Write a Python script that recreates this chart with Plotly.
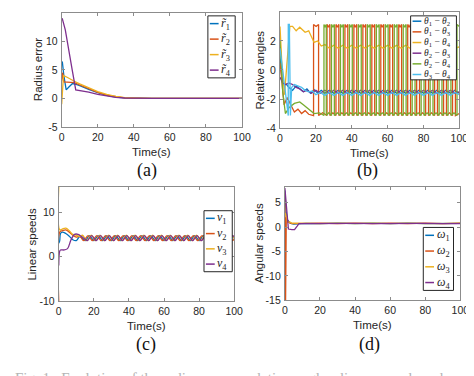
import plotly.graph_objects as go

W, H = 474, 376
def px(x): return x / W
def py(y): return 1 - y / H

BLUE, ORANGE, YELLOW, PURPLE, GREEN, CYAN = "#0072BD", "#D95319", "#EDB120", "#7E2F8E", "#77AC30", "#4DBEEE"

# ---------------- (a) Radius error ----------------
t_r1 = [0, 0.4, 1.2, 2.5, 4, 6, 8, 10, 15, 20, 25, 30, 35, 40, 50, 60, 80, 100]
r1 = [6.5, 6.3, 4.0, 1.5, 2.0, 2.6, 2.45, 2.25, 1.6, 1.0, 0.55, 0.25, 0.1, 0.04, 0.01, 0, 0, 0]
t_r2 = [0, 0.5, 1.2, 3, 5, 7, 10, 15, 20, 25, 30, 35, 40, 50, 60, 80, 100]
r2 = [3.0, 4.5, 2.9, 2.85, 2.8, 2.75, 2.35, 1.65, 1.05, 0.6, 0.3, 0.12, 0.05, 0.01, 0, 0, 0]
t_r3 = [0, 0.3, 1, 3, 5, 7, 10, 15, 20, 25, 30, 35, 40, 50, 60, 80, 100]
r3 = [-1.0, 0.5, 4.0, 3.7, 3.3, 3.0, 2.55, 1.85, 1.2, 0.7, 0.35, 0.15, 0.06, 0.01, 0, 0, 0]
t_r4 = [0, 0.3, 2, 4, 6, 7.8, 10, 15, 20, 25, 30, 35, 40, 50, 60, 80, 100]
r4 = [13.8, 14.0, 12.0, 8.7, 4.7, 1.5, 1.4, 1.1, 0.7, 0.4, 0.2, 0.08, 0.03, 0.01, 0, 0, 0]

# ---------------- (b) Relative angles ----------------
t_12 = [0, 1, 2, 3, 5, 7, 9, 11, 13, 15, 17, 19, 21, 23, 25, 27.5, 30, 32.5, 35, 37.5, 40, 42.5, 45, 47.5, 50,
        52.5, 55, 57.5, 60, 62.5, 65, 67.5, 70, 72.5, 75, 77.5, 80, 82.5, 85, 87.5, 90, 92.5, 95, 97.5, 100]
a12 = [1.0, -0.5, -1.0, -0.9, -1.2, -1.4, -1.1, -1.3, -1.5, -1.3, -1.6, -1.35, -1.6, -1.4, -1.6, -1.4, -1.6, -1.4,
       -1.6, -1.4, -1.6, -1.4, -1.6, -1.4, -1.6, -1.4, -1.6, -1.4, -1.6, -1.4, -1.6, -1.4, -1.6, -1.4, -1.6, -1.4,
       -1.6, -1.4, -1.6, -1.4, -1.6, -1.4, -1.6, -1.4, -1.6]
t_13 = [0, 1, 2.3, 4, 6, 8, 10, 12, 14, 16, 18.7, 18.7, 20.1, 21.5, 21.5, 23.8, 26.2, 26.2, 27.0, 27.8, 27.8,
        29.5, 31.2, 31.2, 32.0, 32.8, 32.8, 34.5, 36.2, 36.2, 37.0, 37.8, 37.8, 39.5, 41.2, 41.2, 42.0, 42.8, 42.8,
        44.5, 46.2, 46.2, 47.0, 47.8, 47.8, 49.5, 51.2, 51.2, 52.0, 52.8, 52.8, 54.5, 56.2, 56.2, 57.0, 57.8, 57.8,
        59.5, 61.2, 61.2, 62.0, 62.8, 62.8, 64.5, 66.2, 66.2, 67.0, 67.8, 67.8, 69.5, 71.2, 71.2, 72.0, 72.8, 72.8,
        74.5, 76.2, 76.2, 77.0, 77.8, 77.8, 79.5, 81.2, 81.2, 82.0, 82.8, 82.8, 84.5, 86.2, 86.2, 87.0, 87.8, 87.8,
        89.5, 91.2, 91.2, 92.0, 92.8, 92.8, 94.5, 96.2, 96.2, 97.0, 97.8, 97.8, 100]
a13 = [0.5, -1.0, -2.4, -1.9, -2.4, -2.9, -2.7, -3.0, -2.8, -3.05, -3.14, 3.14, 3.0, 3.14, -3.14, -2.95, -3.14,
       3.14, 2.95, 3.14, -3.14, -2.95, -3.14, 3.14, 2.95, 3.14, -3.14, -2.95, -3.14, 3.14, 2.95, 3.14, -3.14, -2.95,
       -3.14, 3.14, 2.95, 3.14, -3.14, -2.95, -3.14, 3.14, 2.95, 3.14, -3.14, -2.95, -3.14, 3.14, 2.95, 3.14, -3.14,
       -2.95, -3.14, 3.14, 2.95, 3.14, -3.14, -2.95, -3.14, 3.14, 2.95, 3.14, -3.14, -2.95, -3.14, 3.14, 2.95, 3.14,
       -3.14, -2.95, -3.14, 3.14, 2.95, 3.14, -3.14, -2.95, -3.14, 3.14, 2.95, 3.14, -3.14, -2.95, -3.14, 3.14, 2.95,
       3.14, -3.14, -2.95, -3.14, 3.14, 2.95, 3.14, -3.14, -2.95, -3.14, 3.14, 2.95, 3.14, -3.14, -2.95, -3.14, 3.14,
       2.95, 3.14, -3.14, -3.0]
t_14 = [0, 1, 2.5, 4, 5.5, 7, 9, 11, 14, 16, 19, 21, 23, 25, 27.5, 30, 32.5, 35, 37.5, 40, 42.5, 45, 47.5, 50,
        52.5, 55, 57.5, 60, 62.5, 65, 67.5, 70, 72.5, 75, 77.5, 80, 82.5, 85, 87.5, 90, 92.5, 95, 97.5, 100]
a14 = [3.0, 0.5, -1.7, 0.5, 3.0, 3.0, 2.7, 2.95, 2.6, 2.7, 1.9, 2.0, 1.65, 1.75, 1.5, 1.7, 1.5, 1.7, 1.5, 1.7, 1.5,
       1.7, 1.5, 1.7, 1.5, 1.7, 1.5, 1.7, 1.5, 1.7, 1.5, 1.7, 1.5, 1.7, 1.5, 1.7, 1.5, 1.7, 1.5, 1.7, 1.5, 1.7, 1.5, 1.6]
t_23 = [0, 1.5, 3, 5, 7, 9, 11, 13, 15, 17.5, 20, 22.5, 25, 27.5, 30, 32.5, 35, 37.5, 40, 42.5, 45, 47.5, 50,
        52.5, 55, 57.5, 60, 62.5, 65, 67.5, 70, 72.5, 75, 77.5, 80, 82.5, 85, 87.5, 90, 92.5, 95, 97.5, 100]
a23 = [-0.5, -0.9, -1.0, -0.9, -1.0, -1.2, -1.3, -1.5, -1.4, -1.6, -1.4, -1.6, -1.4, -1.6, -1.4, -1.6, -1.4, -1.6,
       -1.4, -1.6, -1.4, -1.6, -1.4, -1.6, -1.4, -1.6, -1.4, -1.6, -1.4, -1.6, -1.4, -1.6, -1.4, -1.6, -1.4, -1.6,
       -1.4, -1.6, -1.4, -1.6, -1.4, -1.6, -1.5]
t_24 = [0, 1.5, 3, 5, 8, 11, 13, 15, 17, 19, 22, 24.5, 24.5, 25.2, 25.8, 25.8, 27.2, 28.7, 28.7, 29.5, 30.3, 30.3,
        32.0, 33.7, 33.7, 34.5, 35.3, 35.3, 37.0, 38.7, 38.7, 39.5, 40.3, 40.3, 42.0, 43.7, 43.7, 44.5, 45.3, 45.3,
        47.0, 48.7, 48.7, 49.5, 50.3, 50.3, 52.0, 53.7, 53.7, 54.5, 55.3, 55.3, 57.0, 58.7, 58.7, 59.5, 60.3, 60.3,
        62.0, 63.7, 63.7, 64.5, 65.3, 65.3, 67.0, 68.7, 68.7, 69.5, 70.3, 70.3, 72.0, 73.7, 73.7, 74.5, 75.3, 75.3,
        77.0, 78.7, 78.7, 79.5, 80.3, 80.3, 82.0, 83.7, 83.7, 84.5, 85.3, 85.3, 87.0, 88.7, 88.7, 89.5, 90.3, 90.3,
        92.0, 93.7, 93.7, 94.5, 95.3, 95.3, 97.0, 98.7, 98.7, 100]
a24 = [2.0, -1.5, -3.0, -2.6, -2.3, -2.2, -2.4, -2.6, -2.8, -3.0, -2.95, -3.14, 3.14, 2.95, 3.14, -3.14, -2.95, -3.14,
       3.14, 2.95, 3.14, -3.14, -2.95, -3.14, 3.14, 2.95, 3.14, -3.14, -2.95, -3.14, 3.14, 2.95, 3.14, -3.14, -2.95,
       -3.14, 3.14, 2.95, 3.14, -3.14, -2.95, -3.14, 3.14, 2.95, 3.14, -3.14, -2.95, -3.14, 3.14, 2.95, 3.14, -3.14,
       -2.95, -3.14, 3.14, 2.95, 3.14, -3.14, -2.95, -3.14, 3.14, 2.95, 3.14, -3.14, -2.95, -3.14, 3.14, 2.95, 3.14,
       -3.14, -2.95, -3.14, 3.14, 2.95, 3.14, -3.14, -2.95, -3.14, 3.14, 2.95, 3.14, -3.14, -2.95, -3.14, 3.14, 2.95,
       3.14, -3.14, -2.95, -3.14, 3.14, 2.95, 3.14, -3.14, -2.95, -3.14, 3.14, 2.95, 3.14, -3.14, -2.95, -3.14, 3.14, 3.0]
t_34 = [0, 1.5, 3, 4.6, 4.6, 5.2, 5.8, 6.5, 8, 10, 12, 14, 16, 18, 20, 22.5, 25, 27.5, 30, 32.5, 35, 37.5, 40, 42.5,
        45, 47.5, 50, 52.5, 55, 57.5, 60, 62.5, 65, 67.5, 70, 72.5, 75, 77.5, 80, 82.5, 85, 87.5, 90, 92.5, 95, 97.5, 100]
a34 = [1.5, 0.0, -1.6, -3.14, 3.14, 3.14, -3.14, -1.2, -1.0, -1.1, -1.2, -1.4, -1.5, -1.45, -1.7, -1.55, -1.75,
       -1.55, -1.75, -1.55, -1.75, -1.55, -1.75, -1.55, -1.75, -1.55, -1.75, -1.55, -1.75, -1.55, -1.75, -1.55, -1.75,
       -1.55, -1.75, -1.55, -1.75, -1.55, -1.75, -1.55, -1.75, -1.55, -1.75, -1.55, -1.75, -1.55, -1.7]

# ---------------- (c) Linear speeds ----------------
t_v1 = [0, 0.5, 1, 2, 4, 6, 8, 10, 12, 15, 17.5, 20, 22.5, 25, 27.5, 30, 32.5, 35, 37.5, 40, 42.5, 45, 47.5, 50,
        52.5, 55, 57.5, 60, 62.5, 65, 67.5, 70, 72.5, 75, 77.5, 80, 82.5, 85, 87.5, 90, 92.5, 95, 97.5, 100]
v1 = [3.0, 3.5, 5.2, 5.5, 5.2, 4.6, 3.8, 3.6, 4.5, 3.6, 4.7, 3.6, 4.7, 3.6, 4.7, 3.6, 4.7, 3.6, 4.7, 3.6, 4.7, 3.6,
      4.7, 3.6, 4.7, 3.6, 4.7, 3.6, 4.7, 3.6, 4.7, 3.6, 4.7, 3.6, 4.7, 3.6, 4.7, 3.6, 4.7, 3.6, 4.7, 3.6, 4.7, 4.2]
t_v2 = [0, 0.7, 2, 4, 6, 8, 10, 12, 14.2, 16.7, 19.2, 21.7, 24.2, 26.7, 29.2, 31.7, 34.2, 36.7, 39.2, 41.7, 44.2,
        46.7, 49.2, 51.7, 54.2, 56.7, 59.2, 61.7, 64.2, 66.7, 69.2, 71.7, 74.2, 76.7, 79.2, 81.7, 84.2, 86.7, 89.2,
        91.7, 94.2, 96.7, 99.2, 100]
v2 = [-10, 5.6, 5.8, 6.0, 5.5, 4.8, 4.4, 4.6, 3.6, 4.7, 3.6, 4.7, 3.6, 4.7, 3.6, 4.7, 3.6, 4.7, 3.6, 4.7, 3.6, 4.7,
      3.6, 4.7, 3.6, 4.7, 3.6, 4.7, 3.6, 4.7, 3.6, 4.7, 3.6, 4.7, 3.6, 4.7, 3.6, 4.7, 3.6, 4.7, 3.6, 4.7, 3.6, 4.0]
t_v3 = [0, 0.6, 2, 4, 6, 8, 10, 12, 13.5, 16, 18.5, 21, 23.5, 26, 28.5, 31, 33.5, 36, 38.5, 41, 43.5, 46, 48.5, 51,
        53.5, 56, 58.5, 61, 63.5, 66, 68.5, 71, 73.5, 76, 78.5, 81, 83.5, 86, 88.5, 91, 93.5, 96, 98.5, 100]
v3 = [15.6, 6.0, 6.2, 6.4, 5.8, 5.0, 4.8, 4.5, 4.8, 3.6, 4.8, 3.6, 4.8, 3.6, 4.8, 3.6, 4.8, 3.6, 4.8, 3.6, 4.8, 3.6,
      4.8, 3.6, 4.8, 3.6, 4.8, 3.6, 4.8, 3.6, 4.8, 3.6, 4.8, 3.6, 4.8, 3.6, 4.8, 3.6, 4.8, 3.6, 4.8, 3.6, 4.8, 4.2]
t_v4 = [0, 0.5, 1, 3, 5, 7, 9, 11, 13, 15, 16.3, 18.8, 21.3, 23.8, 26.3, 28.8, 31.3, 33.8, 36.3, 38.8, 41.3, 43.8,
        46.3, 48.8, 51.3, 53.8, 56.3, 58.8, 61.3, 63.8, 66.3, 68.8, 71.3, 73.8, 76.3, 78.8, 81.3, 83.8, 86.3, 88.8,
        91.3, 93.8, 96.3, 98.8, 100]
v4 = [-2.0, 1.2, 1.5, 1.5, 1.8, 3.8, 5.0, 5.0, 4.5, 3.9, 3.6, 4.7, 3.6, 4.7, 3.6, 4.7, 3.6, 4.7, 3.6, 4.7, 3.6, 4.7,
      3.6, 4.7, 3.6, 4.7, 3.6, 4.7, 3.6, 4.7, 3.6, 4.7, 3.6, 4.7, 3.6, 4.7, 3.6, 4.7, 3.6, 4.7, 3.6, 4.7, 3.6, 4.7, 4.5]

# ---------------- (d) Angular speeds ----------------
t_w1 = [0, 0.7, 1.5, 3, 5, 8, 12, 20, 30, 40, 50, 60, 70, 80, 90, 100]
w1 = [7.5, 3.0, 1.5, 0.8, 0.6, 0.7, 0.75, 0.7, 0.8, 0.7, 0.8, 0.7, 0.8, 0.7, 0.8, 0.75]
t_w2 = [0, 0.4, 0.8, 2, 4, 8, 12, 20, 30, 40, 50, 60, 70, 80, 90, 100]
w2 = [7.0, -15, 2.0, 1.0, 0.7, 0.75, 0.7, 0.8, 0.7, 0.8, 0.7, 0.8, 0.7, 0.8, 0.7, 0.8]
t_w3 = [0, 0.5, 1.5, 3, 4, 8, 12, 20, 30, 40, 50, 60, 70, 80, 90, 100]
w3 = [2.5, 2.8, 1.0, 1.0, 0.8, 0.7, 0.75, 0.7, 0.8, 0.7, 0.8, 0.7, 0.8, 0.7, 0.8, 0.75]
t_w4 = [0, 1, 1.5, 2, 4, 5.5, 7, 8, 12, 20, 30, 40, 50, 60, 70, 80, 90, 100]
w4 = [8.0, 3.0, 0.5, -0.4, -0.5, -0.5, 0.2, 0.7, 0.7, 0.75, 0.7, 0.75, 0.7, 0.75, 0.7, 0.75, 0.7, 0.7]

TICK_FONT = dict(family="Liberation Sans, Arial, sans-serif", size=10.5, color="#262626")
LABEL_FONT = dict(family="Liberation Sans, Arial, sans-serif", size=11.5, color="#262626")
SERIF = "Liberation Serif, Times New Roman, serif"
AX_COLOR = "#8c8c8c"

panels = [
    # suffix, xdomain(px), ydomain(px), yrange, ytickvals, ylabel, caption, caption pos (px)
    ("", (52, 237), (4.7, 121), [-5, 15], [-5, 0, 5, 10, 15], "Radius error", "(a)", (140, 165)),
    ("2", (276, 460), (4, 122), [-4, 4], [-4, -2, 0, 2, 4], "Relative angles", "(b)", (366, 165)),
    ("3", (49, 229), (182, 298), [-10, 15.6], [-10, 0, 10], "Linear speeds", "(c)", (139, 342)),
    ("4", (281, 461), (182, 297), [-15, 8.2], [-15, -10, -5, 0, 5], "Angular speeds", "(d)", (368, 342)),
]

series = [
    ("", [(t_r1, r1, BLUE), (t_r2, r2, ORANGE), (t_r3, r3, YELLOW), (t_r4, r4, PURPLE)], "linear"),
    ("2", [(t_12, a12, BLUE), (t_13, a13, ORANGE), (t_14, a14, YELLOW), (t_23, a23, PURPLE),
           (t_24, a24, GREEN), (t_34, a34, CYAN)], "linear"),
    ("3", [(t_v1, v1, BLUE), (t_v2, v2, ORANGE), (t_v3, v3, YELLOW), (t_v4, v4, PURPLE)], "spline"),
    ("4", [(t_w1, w1, BLUE), (t_w2, w2, ORANGE), (t_w3, w3, YELLOW), (t_w4, w4, PURPLE)], "linear"),
]

fig = go.Figure()
for suf, lst, shape in series:
    for x, y, c in lst:
        fig.add_trace(go.Scatter(x=x, y=y, mode="lines", xaxis="x" + suf, yaxis="y" + suf,
                                 line=dict(color=c, width=1.3, shape=shape), showlegend=False,
                                 hoverinfo="skip"))

layout = dict(width=W, height=H, margin=dict(l=0, r=0, t=0, b=0), paper_bgcolor="white",
              plot_bgcolor="white", showlegend=False)
annotations = []
shapes = []
ylab_x = {"": 28, "2": 255, "3": 22, "4": 254}
for suf, xd, yd, yr, ytv, ylab, cap, cpos in panels:
    xa = dict(domain=[px(xd[0]), px(xd[1])], anchor="y" + suf, range=[0, 100],
              tickvals=[0, 20, 40, 60, 80, 100], ticks="inside", ticklen=3, tickcolor=AX_COLOR,
              showline=True, linecolor=AX_COLOR, linewidth=1, mirror="ticks", showgrid=False,
              zeroline=False, tickfont=TICK_FONT, ticklabelstandoff=0)
    ya = dict(domain=[py(yd[1]), py(yd[0])], anchor="x" + suf, range=yr, tickvals=ytv,
              ticktext=[str(v) for v in ytv],
              ticks="inside", ticklen=3, tickcolor=AX_COLOR, showline=True, linecolor=AX_COLOR,
              linewidth=1, mirror="ticks", showgrid=False, zeroline=False, tickfont=TICK_FONT,
              ticklabelstandoff=1)
    layout["xaxis" + suf] = xa
    layout["yaxis" + suf] = ya
    cx = (xd[0] + xd[1]) / 2
    annotations.append(dict(text="Time(s)", x=px(cx), y=py(yd[1] + 25), xref="paper", yref="paper",
                            showarrow=False, font=LABEL_FONT, xanchor="center", yanchor="middle"))
    annotations.append(dict(text=cap, x=px(cpos[0]), y=py(cpos[1]), xref="paper", yref="paper",
                            showarrow=False, xanchor="center", yanchor="middle",
                            font=dict(family=SERIF, size=18, color="#111")))
    annotations.append(dict(text=ylab, x=px(ylab_x[suf]), y=py((yd[0] + yd[1]) / 2), xref="paper",
                            yref="paper", showarrow=False, textangle=-90, font=LABEL_FONT,
                            xanchor="center", yanchor="middle"))

# custom legends (box, short line samples, labels)
legends = [
    ((202, 230, 8, 71), [BLUE, ORANGE, YELLOW, PURPLE],
     ["<i>r̃</i><sub>1</sub>", "<i>r̃</i><sub>2</sub>", "<i>r̃</i><sub>3</sub>", "<i>r̃</i><sub>4</sub>"], 12),
    ((410, 457, 8, 73), [BLUE, ORANGE, YELLOW, PURPLE, GREEN, CYAN],
     ["<i>θ</i><sub>1</sub> − <i>θ</i><sub>2</sub>", "<i>θ</i><sub>1</sub> − <i>θ</i><sub>3</sub>",
      "<i>θ</i><sub>1</sub> − <i>θ</i><sub>4</sub>", "<i>θ</i><sub>2</sub> − <i>θ</i><sub>3</sub>",
      "<i>θ</i><sub>2</sub> − <i>θ</i><sub>4</sub>", "<i>θ</i><sub>3</sub> − <i>θ</i><sub>4</sub>"], 9.5),
    ((198, 227, 206, 268), [BLUE, ORANGE, YELLOW, PURPLE],
     ["<i>v</i><sub>1</sub>", "<i>v</i><sub>2</sub>", "<i>v</i><sub>3</sub>", "<i>v</i><sub>4</sub>"], 12),
    ((423, 454, 223, 287), [BLUE, ORANGE, YELLOW, PURPLE],
     ["<i>ω</i><sub>1</sub>", "<i>ω</i><sub>2</sub>", "<i>ω</i><sub>3</sub>", "<i>ω</i><sub>4</sub>"], 12),
]
for (x0, x1, y0, y1), cols, labs, fs in legends:
    shapes.append(dict(type="rect", xref="paper", yref="paper", x0=px(x0), x1=px(x1), y0=py(y0), y1=py(y1),
                       line=dict(color="#262626", width=1), fillcolor="white", layer="above"))
    n = len(cols)
    step = (y1 - y0) / n
    for i, (c, lab) in enumerate(zip(cols, labs)):
        yc = y0 + step * (i + 0.5)
        shapes.append(dict(type="line", xref="paper", yref="paper", x0=px(x0 + 2), x1=px(x0 + 11),
                           y0=py(yc), y1=py(yc), line=dict(color=c, width=1.5), layer="above"))
        annotations.append(dict(text=lab, x=px(x0 + 11.5), y=py(yc), xref="paper", yref="paper",
                                showarrow=False, xanchor="left", yanchor="middle",
                                font=dict(family=SERIF, size=fs, color="#262626")))

annotations.append(dict(text="Fig. 1.  Evolution of the radius errors, relative angles, linear speeds and angular",
                        x=px(2), y=py(376), xref="paper", yref="paper", showarrow=False,
                        xanchor="left", yanchor="middle",
                        font=dict(family=SERIF, size=15, color="#b5b5b5")))

layout["annotations"] = annotations
layout["shapes"] = shapes
fig.update_layout(**layout)
fig.write_html("out.html")
